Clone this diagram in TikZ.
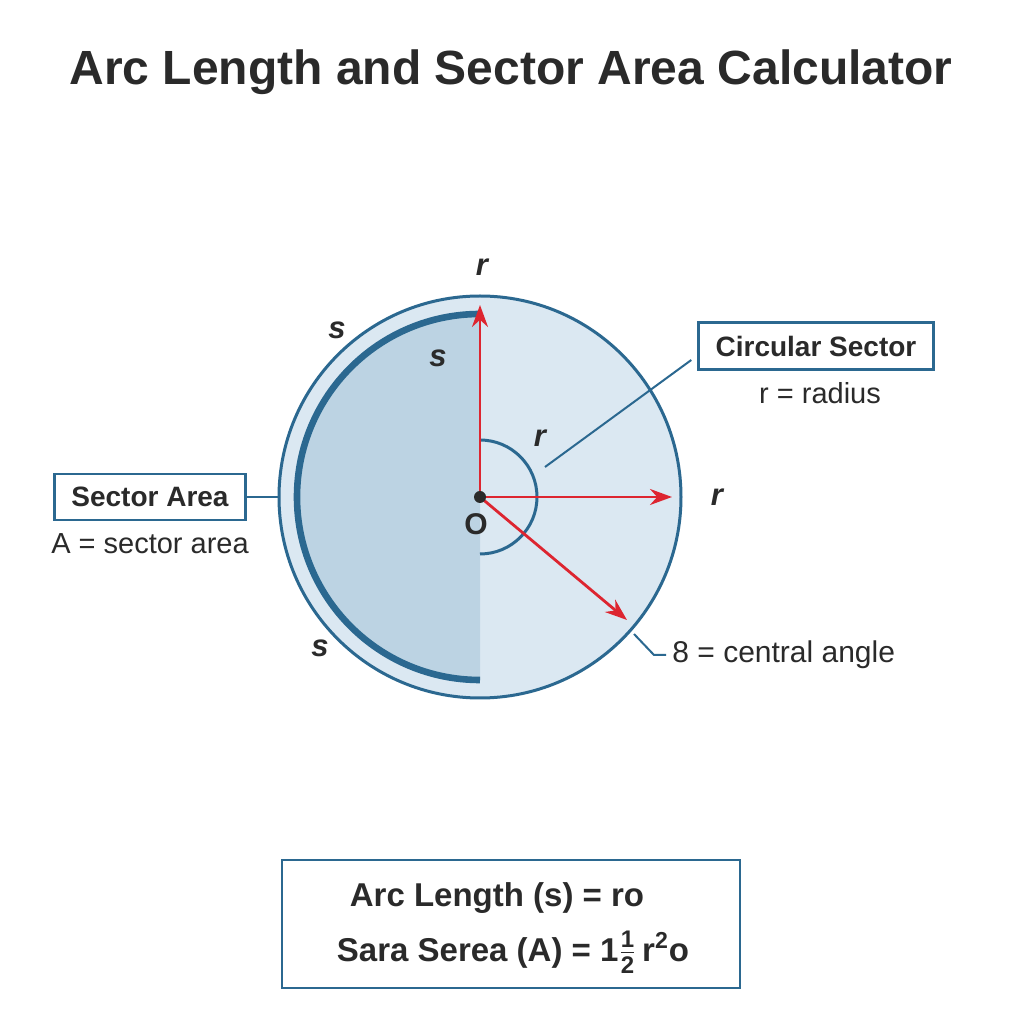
\documentclass[tikz,border=0pt]{standalone}
\usepackage{fontspec}
\usepackage{amsmath}
\setmainfont{Liberation Sans}
\usetikzlibrary{arrows.meta,calc}
\definecolor{inkdark}{HTML}{2A2A2A}
\definecolor{steel}{HTML}{2B6890}
\definecolor{lightfill}{HTML}{DBE8F2}
\definecolor{darkfill}{HTML}{BCD3E3}
\definecolor{redray}{HTML}{DD2530}
\newcommand{\halfsize}[1]{\text{\fontsize{12}{12}\selectfont #1}}
\begin{document}
\begin{tikzpicture}[x=0.5pt, y=0.5pt]

    \tikzset{labelbox/.style={draw=steel,line width=1.2pt,fill=white,text=inkdark,font=\fontsize{14}{16}\selectfont\bfseries,inner sep=0pt}}
    \tikzset{plaintext/.style={text=inkdark,font=\fontsize{14.5}{17}\selectfont,inner sep=0pt}}
    \tikzset{varlabel/.style={text=inkdark,font=\fontsize{15.5}{17}\selectfont\bfseries\itshape,inner sep=0pt}}
    \tikzset{ray/.style={redray,line width=1.4pt,-{Stealth[length=11pt,width=8pt]}}}

    \useasboundingbox (0,0) rectangle (1024,1024);
    \fill[white] (0,0) rectangle (1024,1024);

    \node[text=inkdark,font=\fontsize{24}{28}\selectfont\bfseries] (title) at (511,952) {Arc Length and Sector Area Calculator};

    % Circulo y sector.
    \coordinate (O) at (480,527);
    \fill[lightfill] (O) circle (201);
    \fill[darkfill] (480,710) arc[start angle=90,end angle=270,radius=183] -- cycle;
    \draw[steel,line width=3.3pt] (480,710) arc[start angle=90,end angle=270,radius=183];
    \draw[steel,line width=1.5pt] (O) circle (201);
    \draw[steel,line width=1.5pt] (480,584) arc[start angle=90,end angle=-90,radius=57];

    \coordinate (t1) at (480,719);
    \coordinate (t2) at (672,527);
    \coordinate (t3) at (627,404);
    \draw[ray] (O) -- (t1);
    \draw[ray] (O) -- (t2);
    \draw[ray] (O) -- (t3);
    \fill[inkdark] (O) circle (6);

    \node[varlabel] (r1) at (482,757) {r};
    \node[varlabel] (r2) at (540,586) {r};
    \node[varlabel] (r3) at (717,527) {r};
    \node[varlabel] (s1) at (337,694) {s};
    \node[varlabel] (s2) at (438,666) {s};
    \node[varlabel] (s3) at (320,376) {s};
    \node[text=inkdark,font=\fontsize{15}{17}\selectfont\bfseries,inner sep=0pt] (o) at (476,500) {O};

    % Etiquetas.
    \node[labelbox,minimum width=117.5pt,minimum height=23.5pt] (ccbox) at (816,678) {Circular Sector};
    \node[plaintext] (radius) at (820,631) {r = radius};
    \node[labelbox,minimum width=95.5pt,minimum height=23pt] (sabox) at (150,527) {Sector Area};
    \node[plaintext] (area) at (150,480) {A = sector area};
    \node[plaintext,font=\fontsize{15}{17}\selectfont,anchor=west] (angle) at (672,369) {8 = central angle};

    \coordinate (cs) at (545,557);
    \coordinate (cw) at (279,527);
    \coordinate (a1) at (634,390);
    \coordinate (a2) at (654,369);
    \draw[steel,line width=1pt] (cs) -- ([xshift=-3pt,yshift=-7pt]ccbox.west);
    \draw[steel,line width=1pt] (sabox.east) -- (cw);
    \draw[steel,line width=1pt] (a1) -- (a2) -- ([xshift=-3pt]angle.west);

    % Formulas.
    \node[draw=steel,line width=1.4pt,minimum width=229pt,minimum height=64pt] (fbox) at (511,100) {};
    \node[text=inkdark,font=\fontsize{16.5}{20}\selectfont\bfseries] (f1) at (497,126) {Arc Length (s) = ro};
    \node[text=inkdark,font=\fontsize{16.5}{20}\selectfont\bfseries] (f2) at (513,72) {Sara Serea (A) = 1$\genfrac{}{}{0.6pt}{1}{\halfsize{1}}{\halfsize{2}}$\,r\textsuperscript{2}o};

\end{tikzpicture}
\end{document}
